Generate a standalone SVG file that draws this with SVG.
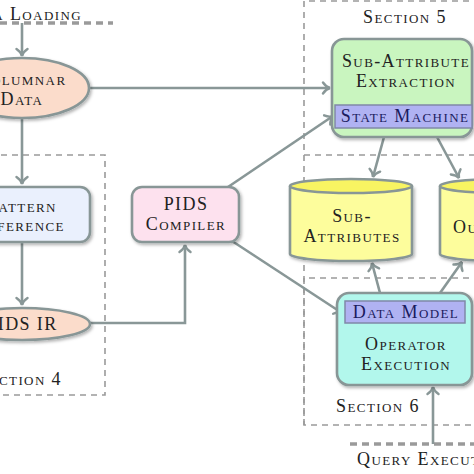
<svg xmlns="http://www.w3.org/2000/svg" width="474" height="474" viewBox="0 0 474 474">
<defs>
<style>
text{font-family:"Liberation Serif","DejaVu Serif",serif;font-variant:small-caps;font-size:18px;letter-spacing:1.4px;fill:#222;text-anchor:middle}
.conn{fill:none;stroke:#899797;stroke-width:2.6}
.sec{fill:none;stroke:#9a9a9a;stroke-width:1.6;stroke-dasharray:6 5}
.io{fill:none;stroke:#9a9a9a;stroke-width:3.5;stroke-dasharray:7 5}
.nd{stroke:#889696;stroke-width:2.6}
.strip{fill:#b0b2f2;stroke:#8088a8;stroke-width:1.5}
.stxt{fill:#1b1b5e}
</style>
<marker id="ah" markerWidth="14" markerHeight="14" refX="9" refY="7" orient="auto" markerUnits="userSpaceOnUse">
<path d="M2,1.5 Q5,6 9,7 Q5,8 2,12.5" fill="none" stroke="#899797" stroke-width="2.4" stroke-linecap="round"/>
</marker>
<filter id="sh" x="-20%" y="-20%" width="140%" height="140%">
<feDropShadow dx="1.5" dy="1.8" stdDeviation="1.4" flood-color="#000" flood-opacity="0.3"/>
</filter>
</defs>
<rect width="474" height="474" fill="#fff"/>

<g id="sections">
<path class="sec" d="M-10,155 H105 V395 H-10"/>
<path class="sec" d="M304,425 V1 H480"/>
<path class="sec" d="M304,155 H480"/>
<path class="sec" d="M480,278 H304 V425 H480"/>
<path class="io" d="M0,23 H113"/>
<path class="io" d="M350,444 H480"/>
<text x="82" y="20" style="text-anchor:end">Data Loading</text>
<text x="405" y="23">Section 5</text>
<text x="62" y="385" style="text-anchor:end">Section 4</text>
<text x="378" y="412">Section 6</text>
<text x="357" y="465" style="text-anchor:start">Query Execution</text>
</g>

<g id="connectors">
<path class="conn" d="M22,23 V56" marker-end="url(#ah)"/>
<path class="conn" d="M22,118 V184" marker-end="url(#ah)"/>
<path class="conn" d="M22,242 V305" marker-end="url(#ah)"/>
<path class="conn" d="M89,88 H330" marker-end="url(#ah)"/>
<path class="conn" d="M90,323 H185 V245" marker-end="url(#ah)"/>
<path class="conn" d="M228,187 L333,116" marker-end="url(#ah)"/>
<path class="conn" d="M232,241 L342,313" marker-end="url(#ah)"/>
<path class="conn" d="M384,137 L373,177" marker-end="url(#ah)"/>
<path class="conn" d="M437,137 L459,178" marker-end="url(#ah)"/>
<path class="conn" d="M380,293 L372,263" marker-end="url(#ah)"/>
<path class="conn" d="M440,293 L462,262" marker-end="url(#ah)"/>
<path class="conn" d="M433,444 V387" marker-end="url(#ah)"/>
</g>

<g id="columnar-data">
<ellipse class="nd" cx="22" cy="88" rx="67" ry="30" fill="#fbdccb" filter="url(#sh)"/>
<text x="22" y="85">Columnar</text>
<text x="22" y="105">Data</text>
</g>

<g id="pattern-inference">
<rect class="nd" x="-46" y="187" width="136" height="55" rx="10" fill="#eaf0fd" filter="url(#sh)"/>
<text x="22" y="212">Pattern</text>
<text x="22" y="231">Inference</text>
</g>

<g id="pids-ir">
<ellipse class="nd" cx="22" cy="324" rx="68" ry="16" fill="#fbdccb" filter="url(#sh)"/>
<text x="22" y="330">PIDS IR</text>
</g>

<g id="pids-compiler">
<rect class="nd" x="132" y="187" width="107" height="55" rx="10" fill="#fde1ee" filter="url(#sh)"/>
<text x="186" y="210">PIDS</text>
<text x="186" y="230">Compiler</text>
</g>

<g id="sub-attribute-extraction">
<rect class="nd" x="332" y="39" width="140" height="98" rx="12" fill="#c9f5bf" filter="url(#sh)"/>
<text x="406" y="67">Sub-Attribute</text>
<text x="406" y="87">Extraction</text>
<rect class="strip" x="335" y="105" width="137" height="23"/>
<text class="stxt" x="405" y="122">State Machine</text>
</g>

<g id="sub-attributes">
<path class="nd" d="M290,186 V254 A61,7 0 0 0 412,254 V186" fill="#fdfd9c" filter="url(#sh)"/>
<ellipse class="nd" cx="351" cy="186" rx="61" ry="7" fill="#f8f462"/>
<text x="352" y="222">Sub-</text>
<text x="352" y="242">Attributes</text>
</g>

<g id="output">
<path class="nd" d="M440,186 V254 A61,7 0 0 0 562,254 V186" fill="#fdfd9c" filter="url(#sh)"/>
<ellipse class="nd" cx="501" cy="186" rx="61" ry="7" fill="#f8f462"/>
<text x="453" y="233" style="text-anchor:start">Output</text>
</g>

<g id="operator-execution">
<rect class="nd" x="337" y="293" width="135" height="92" rx="12" fill="#b2f7ec" filter="url(#sh)"/>
<rect class="strip" x="345" y="301" width="120" height="22"/>
<text class="stxt" x="406" y="318">Data Model</text>
<text x="406" y="350">Operator</text>
<text x="406" y="370">Execution</text>
</g>
</svg>
